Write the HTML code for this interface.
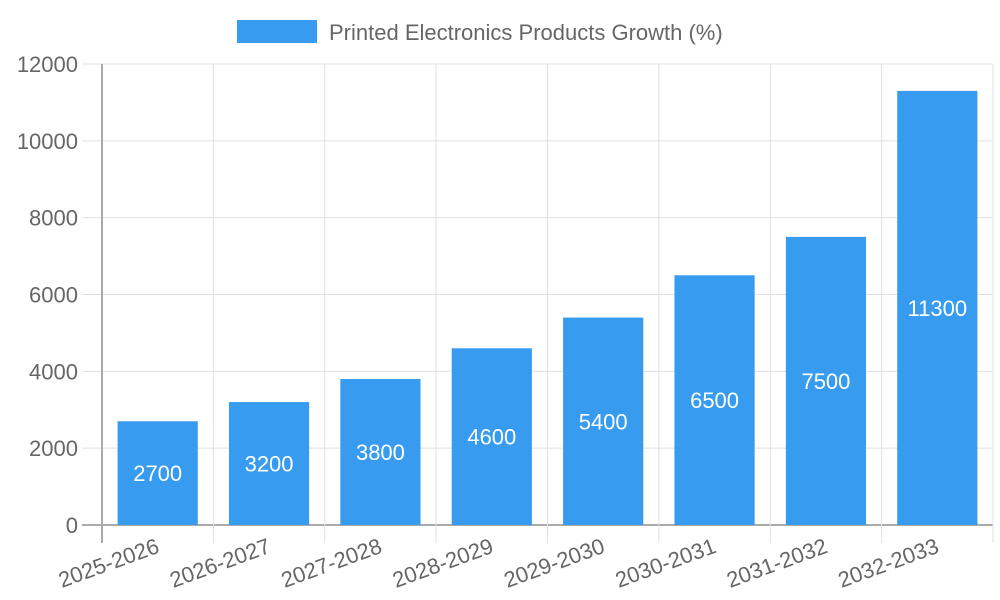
<!DOCTYPE html>
<html><head><meta charset="utf-8"><style>
body{margin:0;background:#fff;font-family:"Liberation Sans",sans-serif}
svg{display:block}
</style></head><body>
<svg id="c" width="1000" height="600">
<g id="legend">
<rect x="237" y="20" width="80" height="23" fill="#379cf0"/>
<text x="329" y="40" font-size="22" fill="#666">Printed Electronics Products Growth (%)</text>
</g>
</svg>
<script>
const categories=["2025-2026","2026-2027","2027-2028","2028-2029","2029-2030","2030-2031","2031-2032","2032-2033"];
const values=[2700,3200,3800,4600,5400,6500,7500,11300];
const yTicks=[0,2000,4000,6000,8000,10000,12000];
const svg=document.getElementById('c');
const NS='http://www.w3.org/2000/svg';
const L=102,R=993,T=64,B=525,yMax=12000;
const bw=(R-L)/categories.length;
const y=v=>B-(v/yMax)*(B-T);
const xc=i=>L+bw*(i+0.5);
function mk(t,a,p){const e=document.createElementNS(NS,t);for(const k in a)e.setAttribute(k,a[k]);(p||svg).appendChild(e);return e;}
const grid=mk('g',{});


yTicks.forEach(v=>{
 const l=mk('line',{x1:82,x2:R,y1:y(v),y2:y(v),stroke:v===0?'#aaa':'#e0e0e0','stroke-width':v===0?2:1},grid);
 
 
 const t=mk('text',{x:78,y:y(v)+8,'text-anchor':'end','font-size':22,fill:'#666'});
 t.textContent=v;
 
 
});
for(let i=0;i<=categories.length;i++){
 const x=L+bw*i;
 const l=mk('line',{x1:x,x2:x,y1:T,y2:543,stroke:i===0?'#aaa':'#e0e0e0','stroke-width':i===0?2:1},grid);
 
 
}
categories.forEach((c,i)=>{
 const w=bw*0.72;
 const r=mk('rect',{x:xc(i)-w/2,y:y(values[i]),width:w,height:B-y(values[i]),fill:'#379cf0'});
 
 
 const t=mk('text',{x:xc(i),y:(y(values[i])+B)/2+8,'text-anchor':'middle','font-size':22,fill:'#fff'});
 t.textContent=values[i];
 
 
 const xl=mk('text',{x:0,y:0,'text-anchor':'end','font-size':22,fill:'#666',transform:`translate(${xc(i)+3},${552}) rotate(-20)`});
 xl.textContent=c;
 
 
});
</script>
</body></html>
